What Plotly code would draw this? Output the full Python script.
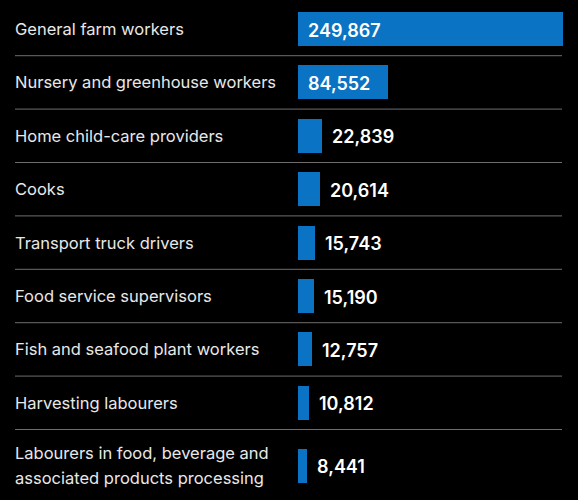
import plotly.graph_objects as go

categories = [
    "General farm workers",
    "Nursery and greenhouse workers",
    "Home child-care providers",
    "Cooks",
    "Transport truck drivers",
    "Food service supervisors",
    "Fish and seafood plant workers",
    "Harvesting labourers",
    "Labourers in food, beverage and<br>associated products processing",
]
values = [249867, 84552, 22839, 20614, 15743, 15190, 12757, 10812, 8441]

W, H = 578, 500
BAR_COLOR = "#0B73C3"
FONT = "Inter"

# row layout: one unit per single-line row, taller for two-line rows
row_h = [1.0 if c.count("<br>") == 0 else 1.35 for c in categories]
bounds = [0.0]
for h in row_h:
    bounds.append(bounds[-1] + h)
centers = [(bounds[i] + bounds[i + 1]) / 2 for i in range(len(categories))]

unit_px = 53.4
top_off = 2.3 / unit_px
y_range = [(H - 2.3) / unit_px, -top_off]

bar_start_px = 298
max_bar_px = 265
s = max_bar_px / max(values)
x_range = [-bar_start_px / s, (W - bar_start_px) / s]

fig = go.Figure(
    go.Bar(
        x=values,
        y=centers,
        orientation="h",
        width=34 / unit_px,
        marker=dict(color=BAR_COLOR, line=dict(width=0)),
        hoverinfo="skip",
    )
)

annotations = []
for lab, v, c in zip(categories, values, centers):
    lines = lab.split("<br>")
    n = len(lines)
    for k, ln in enumerate(lines):
        annotations.append(dict(
            x=15 / W, xref="paper", y=c, yref="y",
            text=ln, showarrow=False, xanchor="left", yanchor="middle",
            xshift=-2,
            yshift=-(k - (n - 1) / 2) * 25,
            font=dict(family=FONT, size=16.5, color="#E8E8E8"),
        ))
    inside = v > 0.25 * max(values)
    annotations.append(dict(
        x=0 if inside else v, xref="x", y=c, yref="y",
        text=f"{v:,}", showarrow=False, xanchor="left", yanchor="middle",
        xshift=8, yshift=-1,
        font=dict(family=FONT, size=18, color="#FFFFFF", weight=600),
    ))

shapes = []
for b in bounds[1:-1]:
    shapes.append(dict(
        type="line", xref="paper", yref="y",
        x0=15 / W, x1=562 / W, y0=b, y1=b,
        line=dict(color="#6E6E6E", width=1),
    ))

fig.update_layout(
    width=W, height=H,
    margin=dict(l=0, r=0, t=0, b=0),
    paper_bgcolor="#000000", plot_bgcolor="#000000",
    xaxis=dict(range=x_range, visible=False, fixedrange=True),
    yaxis=dict(range=y_range, visible=False, fixedrange=True),
    showlegend=False,
    annotations=annotations,
    shapes=shapes,
    bargap=0,
)

fig.write_html("out.html")
